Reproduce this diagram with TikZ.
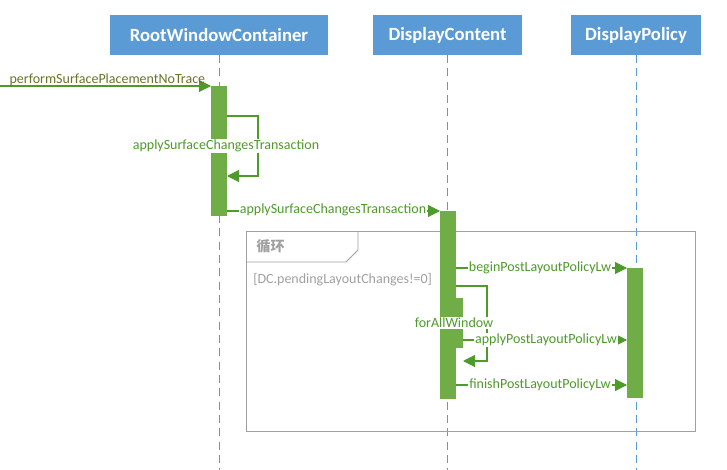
\documentclass[tikz,border=0pt]{standalone}
\usepackage{fontspec}
\setmainfont{Carlito}
\newfontfamily\cjk{Noto Sans CJK SC}
\usetikzlibrary{arrows.meta}
\definecolor{hb}{HTML}{5B9BD5}
\definecolor{bar}{HTML}{70AD47}
\definecolor{tx}{HTML}{4E9A2A}
\definecolor{fr}{HTML}{A0A0A0}
\begin{document}
\begin{tikzpicture}[x=0.75pt,y=-0.75pt,
 head/.style={fill=hb,text=white,font=\bfseries\fontsize{14}{16}\selectfont,minimum height=30pt,inner sep=0pt},
 life/.style={hb,dashed,dash pattern=on 6pt off 4pt,line width=0.6pt},
 act/.style={fill=bar,draw=none},
 msg/.style={tx,line width=0.8pt,-{Triangle[length=9pt,width=9pt]}},
 lbl/.style={text=tx,font=\fontsize{10.5}{12}\selectfont,inner sep=1pt},
 wl/.style={lbl,fill=white}]
\useasboundingbox (0,0) rectangle (727,470);
\node[head,minimum width=163.5pt] (r) at (219,35) {RootWindowContainer};
\node[head,minimum width=111.75pt] (d) at (447.5,35) {DisplayContent};
\node[head,minimum width=97.5pt] (p) at (636,35) {DisplayPolicy};
\draw[life] (219,55) -- (219,470);
\draw[life] (447,55) -- (447,470);
\draw[life] (636,55) -- (636,470);
% frame
\draw[fr,line width=0.7pt] (246,231) rectangle (695,431);
\draw[fr,line width=0.7pt] (246,262) -- (346,262) -- (358,250) -- (358,231);
\node[text=fr,anchor=west,font=\cjk\bfseries\fontsize{10.5}{12}\selectfont] (loop) at (252,246) {循环};
\node[text=fr,anchor=west,font=\fontsize{10.5}{12}\selectfont,inner sep=0pt] (g) at (253,280) {[DC.pendingLayoutChanges!=0]};
% bars
\fill[act] (211,86) rectangle (227,216);
\fill[act] (440,211) rectangle (456,399);
\fill[act] (447,298) rectangle (463,348);
\fill[act] (627,268) rectangle (643,398);
\coordinate (s0) at (0,86);
\coordinate (r1) at (211,86);
\draw[msg] (s0) -- (r1);
\node[lbl,text=olive!80!green!70!black,anchor=south west] (l0) at (8,87) {performSurfacePlacementNoTrace};
\coordinate (a1) at (227,116); \coordinate (a2) at (227,176);
\draw[msg] (a1) -- (258,116) -- (258,176) -- (a2);
\node[wl] (l1) at (226,146) {applySurfaceChangesTransaction};
\coordinate (b1) at (227,211); \coordinate (b2) at (440,211);
\draw[msg] (b1) -- (b2);
\node[lbl,fill=white,anchor=south] (l2) at (333,218) {applySurfaceChangesTransaction};
\coordinate (c1) at (456,268); \coordinate (c2) at (627,268);
\draw[msg] (c1) -- (c2);
\node[wl] (l3) at (540,268) {beginPostLayoutPolicyLw};
\coordinate (e1) at (456,286); \coordinate (e2) at (463,361);
\draw[msg] (e1) -- (487,286) -- (487,361) -- (e2);
\node[wl] (l4) at (454,323) {forAllWindow};
\coordinate (f1) at (463,340); \coordinate (f2) at (627,340);
\draw[msg] (f1) -- (f2);
\node[wl] (l5) at (546,340) {applyPostLayoutPolicyLw};
\coordinate (h1) at (456,385); \coordinate (h2) at (627,385);
\draw[msg] (h1) -- (h2);
\node[wl] (l6) at (540,385) {finishPostLayoutPolicyLw};
\end{tikzpicture}
\end{document}
